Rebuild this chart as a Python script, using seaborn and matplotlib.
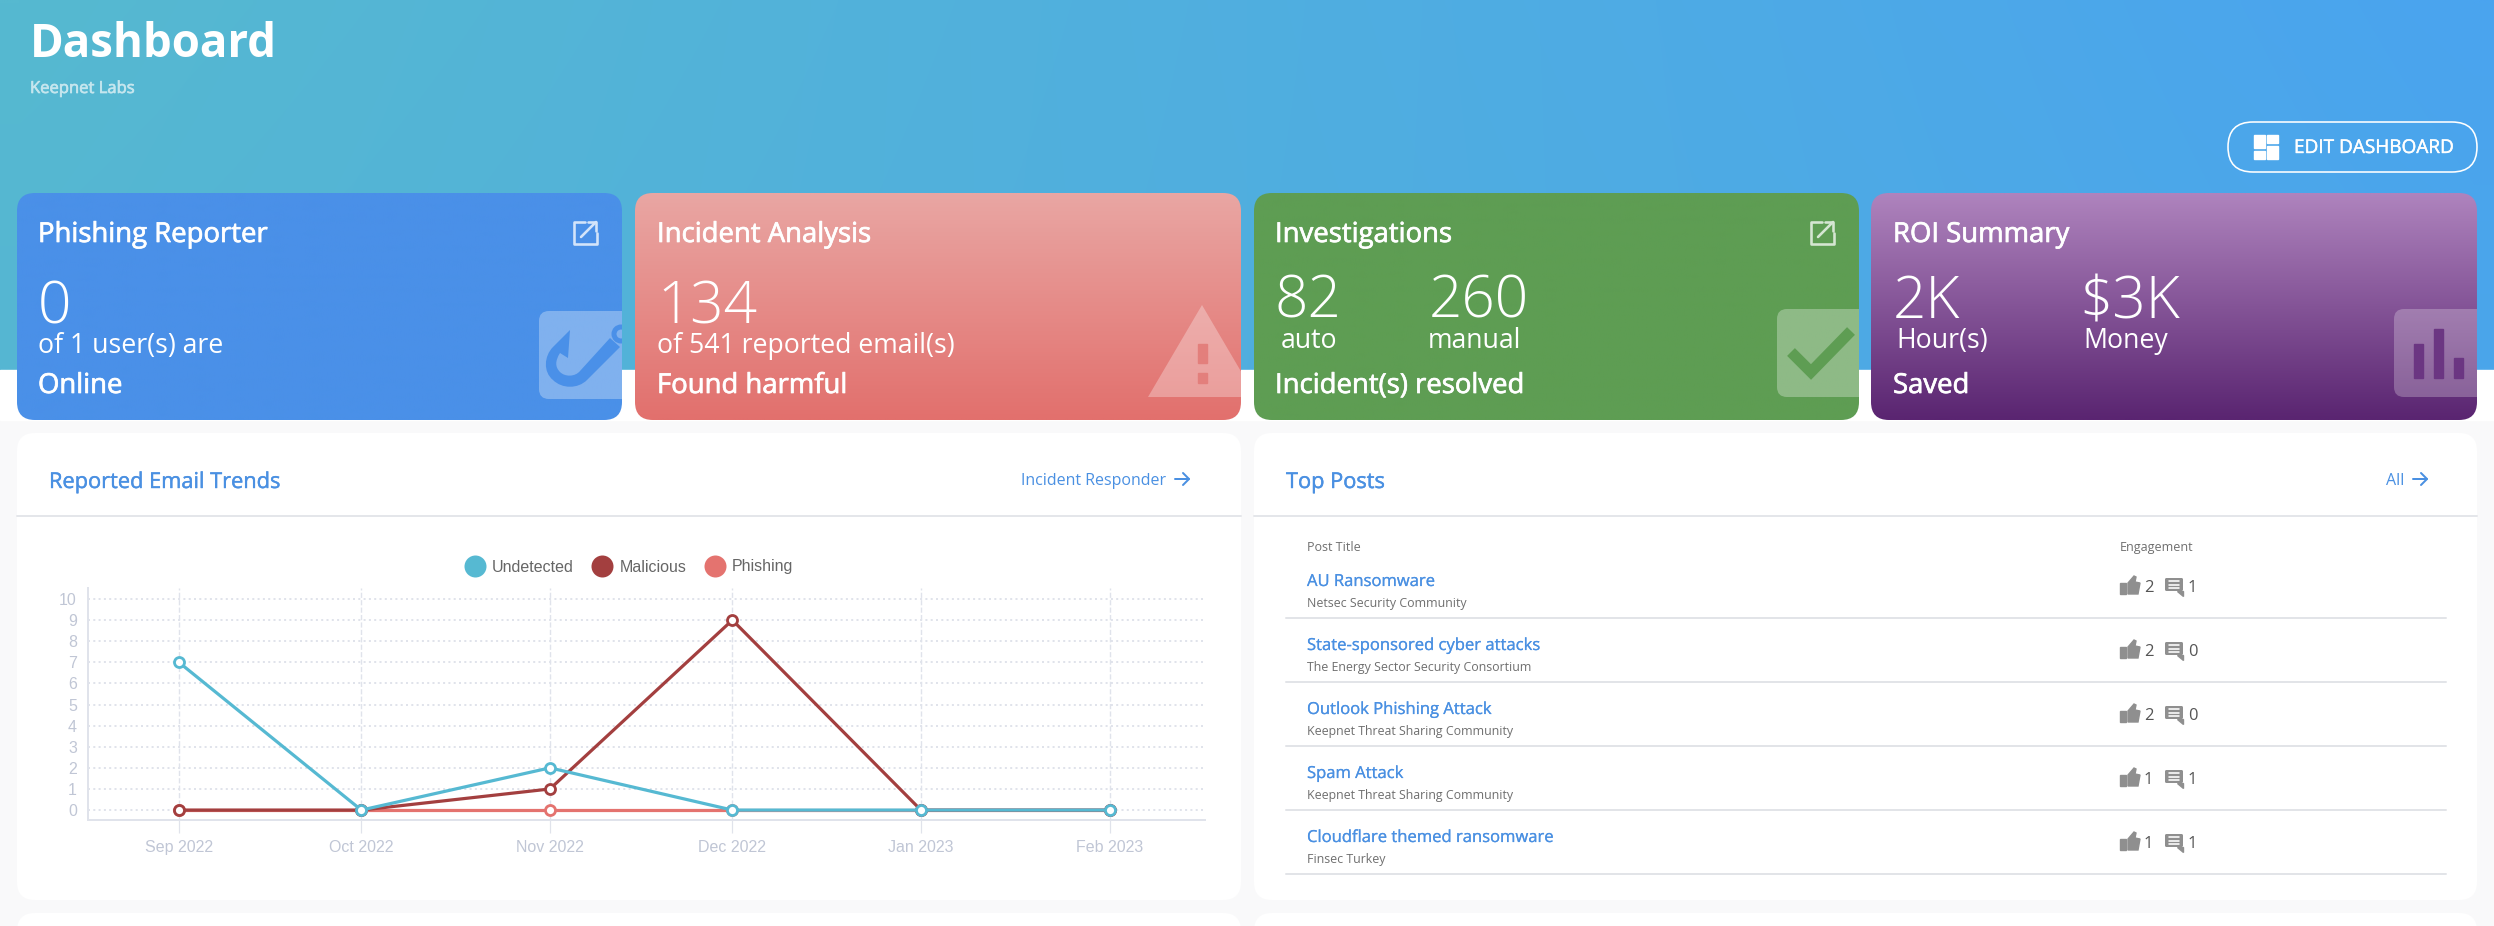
"""Keepnet Labs dashboard screenshot rebuilt with seaborn + matplotlib patches."""
import numpy as np
import pandas as pd
import seaborn as sns
import matplotlib.pyplot as plt
import matplotlib.patheffects as pe
from matplotlib.lines import Line2D
from matplotlib.patches import Circle, FancyBboxPatch, PathPatch, Polygon, Rectangle
from matplotlib.path import Path
from matplotlib.colors import to_rgb

W, H = 2494, 926

# ---- Data ----
months = ['2022-09-01', '2022-10-01', '2022-11-01', '2022-12-01', '2023-01-01', '2023-02-01']
month_labels = ['Sep 2022', 'Oct 2022', 'Nov 2022', 'Dec 2022', 'Jan 2023', 'Feb 2023']
undetected = [7, 0, 2, 0, 0, 0]
malicious = [0, 0, 1, 9, 0, 0]
phishing = [0, 0, 0, 0, 0, 0]

post_titles = ['AU Ransomware', 'State-sponsored cyber attacks', 'Outlook Phishing Attack',
               'Spam Attack', 'Cloudflare themed ransomware']
post_sources = ['Netsec Security Community', 'The Energy Sector Security Consortium',
                'Keepnet Threat Sharing Community', 'Keepnet Threat Sharing Community', 'Finsec Turkey']
post_likes = [2, 2, 2, 1, 1]
post_comments = [1, 0, 0, 1, 1]

CYAN, DARK_RED, PINK = '#56b9d2', '#a33f3f', '#e4736f'
BLUE = '#4a90e2'
GRID = '#e0e3eb'
TICK = '#c0c6d5'

sns.set_theme(style='white')
plt.rcParams['font.family'] = ['Open Sans', 'DejaVu Sans']

fig = plt.figure(figsize=(W / 100, H / 100), dpi=100, facecolor='#f9f9fa')
bg = fig.add_axes([0, 0, 1, 1])
bg.set_facecolor('none')
bg.axis('off')


def px(size):
    return size * 0.72


def label(x, y, s, size, color='white', weight='normal', thicken=0, **kw):
    t = bg.text(x, y, s, fontsize=px(size), color=color, fontweight=weight,
                va='baseline', zorder=6, **kw)
    if thicken:
        # the installed Open Sans has no medium cut, so fatten the regular one a little
        t.set_path_effects([pe.withStroke(linewidth=thicken, foreground=color)])
    return t


def gradient(corners, extent, zorder=1, clip=None):
    # corners: top-left, top-right, bottom-left, bottom-right
    tl, tr, bl, br = [np.array(to_rgb(c)) for c in corners]
    v, u = np.mgrid[0:1:64j, 0:1:64j]
    arr = ((1 - v) * (1 - u))[..., None] * tl + ((1 - v) * u)[..., None] * tr \
        + (v * (1 - u))[..., None] * bl + (v * u)[..., None] * br
    im = bg.imshow(arr, extent=extent, aspect='auto', interpolation='bilinear', zorder=zorder)
    if clip is not None:
        im.set_clip_path(clip)
    return im


def rounded(x0, y0, x1, y1, r, **kw):
    p = FancyBboxPatch((x0, y0), x1 - x0, y1 - y0, boxstyle=f'round,pad=0,rounding_size={r}', **kw)
    bg.add_patch(p)
    return p


def arrow(x0, x1, y, color=BLUE):
    bg.plot([x0, x1], [y, y], color=color, lw=px(2), zorder=6)
    bg.plot([x1 - 6, x1, x1 - 6], [y - 6, y, y + 6], color=color, lw=px(2), zorder=6)


def link_icon(x0, y0, color):
    x1, y1 = x0 + 23, y0 + 23
    bg.plot([x0 + 11, x0, x0, x1, x1], [y0 + 1, y0 + 1, y1, y1, y0 + 12], color=color,
            lw=px(2.6), zorder=6, solid_joinstyle='round')
    bg.plot([x0 + 7, x1 - 1], [y1 - 7, y0 + 1], color=color, lw=px(2.6), zorder=6)
    bg.plot([x0 + 14, x1 - 1, x1 - 1], [y0 + 1, y0 + 1, y0 + 10], color=color, lw=px(2.6), zorder=6)


# ---- Page background ----
gradient(['#56b9d0', '#4aa4ef', '#55b6d3', '#4ba6ea'], (0, W, 370, 0), zorder=0)
bg.add_patch(Rectangle((0, 370), W, 50, color='white', zorder=0.5))

# ---- Header ----
label(30, 57, 'Dashboard', 45.7, weight='bold')
label(30, 93, 'Keepnet Labs', 16.6, color='#c5e6ee', thicken=0.5)
rounded(2228, 122, 2477, 172, 25, fc='none', ec='white', lw=px(1.6), zorder=5)
for rx, ry, rw, rh in [(2254, 135, 11, 13), (2254, 151, 11, 8), (2267, 135, 11, 8), (2267, 146, 11, 13)]:
    bg.add_patch(Rectangle((rx, ry), rw, rh, color='white', zorder=5))
label(2294, 153, 'EDIT DASHBOARD', 19, thicken=0.3)

# ---- KPI cards ----
cards = [
    (17, 622, ['#4a90e8', '#4a90e8']),
    (635, 1241, ['#e9a6a3', '#e2706d']),
    (1254, 1859, ['#5e9d53', '#5e9d53']),
    (1871, 2477, ['#ae83bd', '#5a2571']),
]
shapes = []
for x0, x1, cols in cards:
    shape = rounded(x0, 193, x1, 420, 18, fc='none', ec='none', zorder=1.5)
    gradient([cols[0], cols[0], cols[1], cols[1]], (x0, x1, 420, 193), zorder=1.4, clip=shape)
    shapes.append(shape)

WHITE_SOFT = (1, 1, 1, 0.3)
# phishing hook icon
rounded(539, 311, 660, 399, 10, fc=WHITE_SOFT, ec='none', zorder=2).set_clip_path(shapes[0])
hook = Path([(570, 330), (553, 347), (544, 356), (543, 372), (553, 380), (562, 389), (578, 389),
             (587, 380), (620, 347), (610, 338), (580, 371), (575, 377), (565, 377), (560, 372),
             (555, 367), (555, 361), (560, 353), (568, 358), (570, 330)],
            [Path.MOVETO, Path.LINETO, Path.CURVE4, Path.CURVE4, Path.CURVE4, Path.CURVE4, Path.CURVE4,
             Path.CURVE4, Path.LINETO, Path.LINETO, Path.LINETO, Path.CURVE4, Path.CURVE4, Path.CURVE4,
             Path.CURVE4, Path.CURVE4, Path.CURVE4, Path.LINETO, Path.CLOSEPOLY])
bg.add_patch(PathPatch(hook, fc='#4a90e8', ec='none', zorder=3)).set_clip_path(shapes[0])
bg.add_patch(Circle((621, 334), 7, fc='none', ec='#4a90e8', lw=px(5), zorder=3)).set_clip_path(shapes[0])

# warning triangle
bg.add_patch(Polygon([(1202, 305), (1148, 397), (1256, 397)], fc=WHITE_SOFT, ec='none', zorder=2)).set_clip_path(shapes[1])
bg.add_patch(Rectangle((1198, 344), 9, 19, color='#e37f7c', zorder=3))
bg.add_patch(Rectangle((1198, 373), 9, 10, color='#e37f7c', zorder=3))

# check mark
rounded(1777, 309, 1900, 397, 10, fc=WHITE_SOFT, ec='none', zorder=2).set_clip_path(shapes[2])
bg.plot([1791, 1811, 1851], [352, 372, 331], color='#5e9d53', lw=px(11), zorder=3,
        solid_joinstyle='miter', solid_capstyle='butt')

# bar chart icon
rounded(2394, 309, 2520, 397, 10, fc=(1, 1, 1, 0.25), ec='none', zorder=2).set_clip_path(shapes[3])
for bx, by in [(2414, 344), (2434, 329), (2454, 358)]:
    bg.add_patch(Rectangle((bx, by), 9, 378 - by, color='#6b3682', zorder=3))

link_icon(574, 221, '#d3e4fa')
link_icon(1811, 221, '#d5e6d2')

TITLE, BODY, BIG = 27.5, 26.6, 58.5
FAT = 0.5

label(38, 242, 'Phishing Reporter', TITLE, thicken=FAT)
label(38, 323, '0', BIG, weight='light')
label(38, 353, 'of 1 user(s) are', BODY)
label(38, 393, 'Online', TITLE, thicken=FAT)

label(657, 242, 'Incident Analysis', TITLE, thicken=FAT)
label(657, 323, '134', BIG, weight='light')
label(657, 353, 'of 541 reported email(s)', BODY)
label(657, 393, 'Found harmful', TITLE, thicken=FAT)

label(1275, 242, 'Investigations', TITLE, thicken=FAT)
label(1275, 318, '82', BIG, weight='light')
label(1429, 318, '260', BIG, weight='light')
label(1281, 348, 'auto', BODY)
label(1428, 348, 'manual', BODY)
label(1275, 393, 'Incident(s) resolved', TITLE, thicken=FAT)

label(1893, 242, 'ROI Summary', TITLE, thicken=FAT)
label(1893, 318, '2K', BIG, weight='light')
label(2079, 318, '$3K', BIG, weight='light')
label(1896, 348, 'Hour(s)', BODY)
label(2083, 348, 'Money', BODY)
label(1893, 393, 'Saved', TITLE, thicken=FAT)

# ---- Lower panels ----
for x0, x1 in [(17, 1241), (1254, 2477)]:
    rounded(x0, 433, x1, 900, 18, fc='white', ec='none', zorder=1)
    rounded(x0, 913, x1, 960, 18, fc='white', ec='none', zorder=1)
    bg.plot([x0, x1], [516, 516], color='#e4e6ea', lw=px(2), zorder=2)

label(49, 488, 'Reported Email Trends', 21.8, color=BLUE, thicken=0.3)
label(1021, 485, 'Incident Responder', 16, color=BLUE)
arrow(1175, 1189, 479)
label(1286, 488, 'Top Posts', 21.8, color=BLUE, thicken=0.3)
label(2386, 485, 'All', 16, color=BLUE)
arrow(2413, 2427, 479)

# ---- Top posts table ----
GREY_TEXT = '#6f6f6f'
ICON = '#8f8f8f'
label(1307, 551, 'Post Title', 12.5, color=GREY_TEXT)
label(2120, 551, 'Engagement', 12.5, color=GREY_TEXT)
for i, (title, source, likes, comments) in enumerate(zip(post_titles, post_sources, post_likes, post_comments)):
    dy = 64 * i
    label(1307, 586 + dy, title, 16.6, color=BLUE, thicken=0.15)
    label(1307, 607 + dy, source, 12.4, color=GREY_TEXT)
    bg.plot([1286, 2446], [618 + dy, 618 + dy], color='#e2e4e8', lw=px(2), zorder=2)
    # thumb
    bg.add_patch(Rectangle((2120, 583 + dy), 6, 11, color=ICON, zorder=3))
    bg.add_patch(Polygon([(2128, 583 + dy), (2134, 576 + dy), (2136, 577 + dy), (2135, 582 + dy),
                          (2140, 583 + dy), (2138, 594 + dy), (2128, 594 + dy)],
                         color=ICON, zorder=3))
    label(2144, 592 + dy, str(likes), 16.5, color='#555555')
    # comment bubble
    rounded(2165, 578 + dy, 2183, 591 + dy, 1.5, fc=ICON, ec='none', zorder=3)
    bg.add_patch(Polygon([(2177, 591 + dy), (2183, 591 + dy), (2183, 596 + dy)], color=ICON, zorder=3))
    for ly in (581, 584.5, 588):
        bg.plot([2169, 2179], [ly + dy, ly + dy], color='white', lw=px(1.6), zorder=4)
    label(2188, 592 + dy, str(comments), 16.5, color='#555555')

bg.set_xlim(0, W)
bg.set_ylim(H, 0)

# ---- Reported email trends chart ----
ax = fig.add_axes([88 / W, 1 - 820 / H, (1205 - 88) / W, (820 - 588) / H])
ax.set_facecolor('none')
dates = pd.to_datetime(months)
series = [('Phishing', phishing, PINK), ('Malicious', malicious, DARK_RED), ('Undetected', undetected, CYAN)]
for name, values, color in series:
    sns.lineplot(x=dates, y=values, color=color, lw=px(3.2), marker='o', ms=px(10), mfc='white',
                 mec=color, mew=px(2.8), ax=ax, zorder=3, clip_on=False)

ax.set_xlim(dates[0] - pd.Timedelta(days=14.94), dates[-1] + pd.Timedelta(days=15.7))
ax.set_ylim(-0.47, 10.52)
ax.set_yticks(range(0, 11))
ax.set_xticks(dates)
ax.set_xticklabels(month_labels)
ax.set_xlabel('')
ax.set_ylabel('')
ax.yaxis.grid(True, ls=':', color=GRID, lw=px(2))
ax.xaxis.grid(True, ls='--', color=GRID, lw=px(1.4))
ax.set_axisbelow(True)
ax.tick_params(axis='x', length=px(13), width=px(1.2), color=GRID, pad=px(7), labelsize=px(16),
               labelcolor=TICK, bottom=True)
ax.tick_params(axis='y', length=0, pad=px(11), labelsize=px(16), labelcolor=TICK, left=False)
for lab in ax.get_xticklabels() + ax.get_yticklabels():
    lab.set_fontfamily('Liberation Sans')
for side in ('top', 'right'):
    ax.spines[side].set_visible(False)
for side in ('left', 'bottom'):
    ax.spines[side].set_color(GRID)
    ax.spines[side].set_linewidth(px(2))

handles = [Line2D([], [], ls='none', marker='o', ms=px(22), mfc=c, mec='none', label=n)
           for n, _, c in reversed(series)]
ax.legend(handles=handles, loc='center', bbox_to_anchor=(630, 567), bbox_transform=bg.transData,
          ncol=3, frameon=False, handlelength=1.0, handletextpad=0.56, columnspacing=1.28,
          borderpad=0, prop={'family': 'Liberation Sans', 'size': px(16)}, labelcolor='#666666')

fig.savefig('out.png', dpi=100, facecolor=fig.get_facecolor())
